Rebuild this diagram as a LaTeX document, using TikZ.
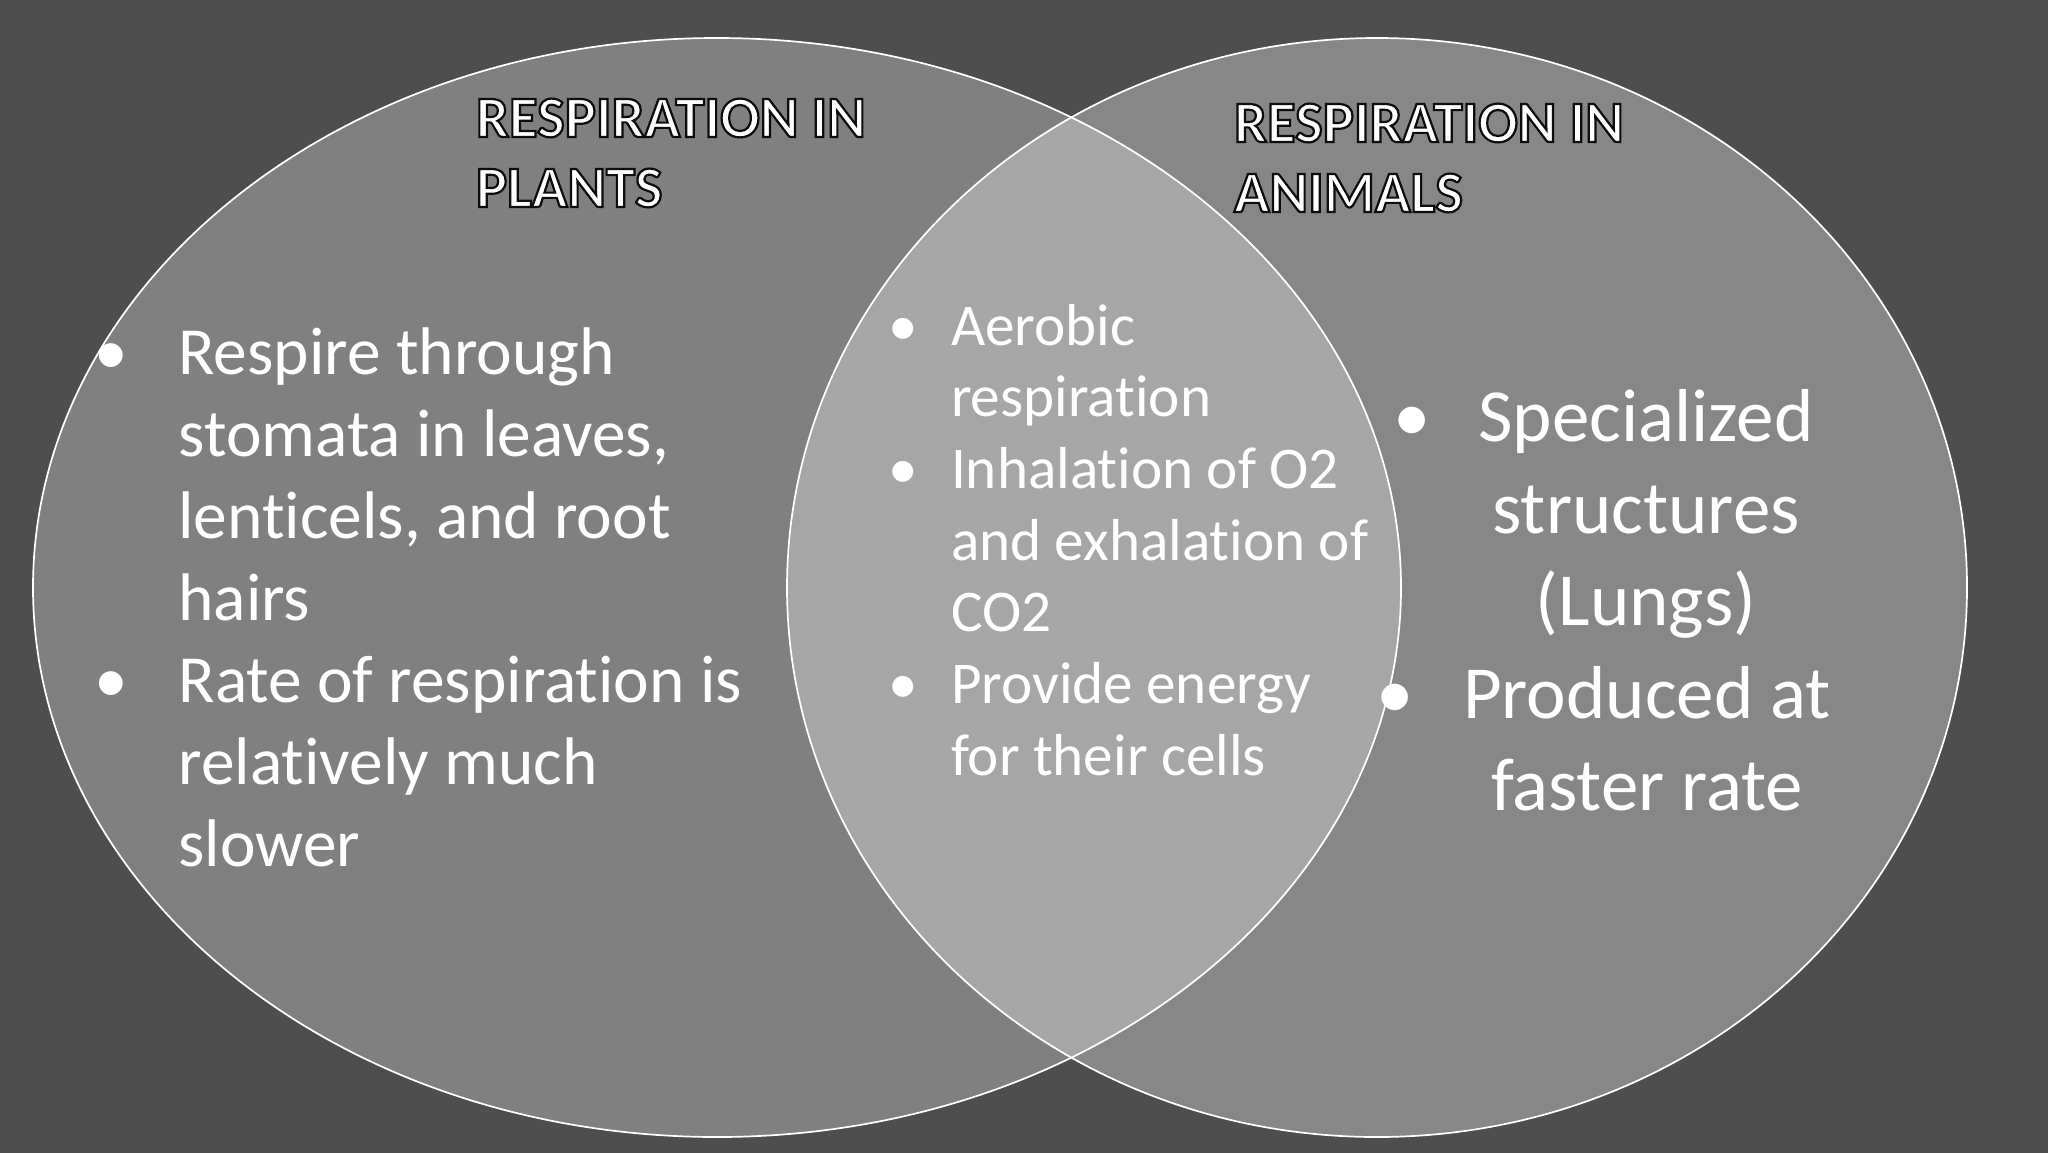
\documentclass[tikz,border=0pt]{standalone}
\usepackage{fontspec}
\setmainfont{Carlito}[Ligatures={NoCommon}]
\definecolor{bgc}{RGB}{78,78,78}
\definecolor{leftc}{RGB}{128,128,128}
\definecolor{rightc}{RGB}{135,135,135}
\definecolor{midc}{RGB}{166,166,166}
\newcommand\stackL[2]{\vtop{\baselineskip=#1\relax\lineskiplimit=-1000pt\halign{##\hfil\cr#2\crcr}}}
\newcommand\stackC[2]{\vtop{\baselineskip=#1\relax\lineskiplimit=-1000pt\halign{\hfil##\hfil\cr#2\crcr}}}
\newcommand\outlined[1]{\special{pdf:literal direct 2 Tr 0.05 0.05 0.05 RG 1.1 w}#1\special{pdf:literal direct 0 Tr}}
\begin{document}
\begin{tikzpicture}[x=0.5pt,y=-0.5pt,
  ring/.style={draw=white, line width=0.85pt},
  txt/.style={text=white, inner sep=0pt, outer sep=0pt},
  titletxt/.style={txt, anchor=base west, font=\fontsize{29.3}{35}\selectfont\bfseries},
  lefttxt/.style={txt, font=\fontsize{33.7}{41}\selectfont},
  midtxt/.style={txt, font=\fontsize{29.6}{35.85}\selectfont},
  righttxt/.style={txt, font=\fontsize{37.5}{46}\selectfont}]
\useasboundingbox (0,0) rectangle (2048,1152);
\fill[bgc] (-2,-2) rectangle (2050,1154);
% circles
\fill[leftc] (717,587.5) ellipse [x radius=342pt, y radius=274.75pt];
\fill[rightc] (1377,587.5) ellipse [x radius=295pt, y radius=274.75pt];
\begin{scope}
  \clip (717,587.5) ellipse [x radius=342pt, y radius=274.75pt];
  \fill[midc] (1377,587.5) ellipse [x radius=295pt, y radius=274.75pt];
\end{scope}
\draw[ring] (717,587.5) ellipse [x radius=342pt, y radius=274.75pt];
\draw[ring] (1377,587.5) ellipse [x radius=295pt, y radius=274.75pt];
% left set
\node[lefttxt, anchor=base] (lb1) at (111,374.6) {•};
\node[lefttxt, anchor=base west] (l1) at (178.5,374.6)
  {\stackL{41pt}{Respire through\cr stomata in leaves,\cr lenticels, and root\cr hairs}};
\node[lefttxt, anchor=base] (lb2) at (111,702) {•};
\node[lefttxt, anchor=base west] (l2) at (178.5,702)
  {\stackL{41pt}{Rate of respiration is\cr relatively much\cr slower}};
% middle
\node[midtxt, anchor=base] (mb1) at (903,345) {•};
\node[midtxt, anchor=base west] (m1) at (951,345)
  {\stackL{35.85pt}{Aerobic\cr respiration}};
\node[midtxt, anchor=base] (mb2) at (903,488.5) {•};
\node[midtxt, anchor=base west] (m2) at (951,488.5)
  {\stackL{35.85pt}{Inhalation of O2\cr and exhalation of\cr CO2}};
\node[midtxt, anchor=base] (mb3) at (903,703.5) {•};
\node[midtxt, anchor=base west] (m3) at (951,703.5)
  {\stackL{35.85pt}{Provide energy\cr for their cells}};
% right set
\node[righttxt, anchor=base] (rb1) at (1412,441.7) {•};
\node[righttxt, anchor=base] (r1) at (1646,441.7)
  {\stackC{46pt}{Specialized\cr structures\cr (Lungs)}};
\node[righttxt, anchor=base] (rb2) at (1395,718) {•};
\node[righttxt, anchor=base] (r2) at (1647,718)
  {\stackC{46pt}{Produced at\cr faster rate}};
% titles
\node[titletxt] (tplants) at (476,137)
  {\outlined{\stackL{35pt}{RESPIRATION IN\cr PLANTS}}};
\node[titletxt] (tanimals) at (1234,142)
  {\outlined{\stackL{35pt}{RESPIRATION IN\cr ANIMALS}}};
\end{tikzpicture}
\end{document}
